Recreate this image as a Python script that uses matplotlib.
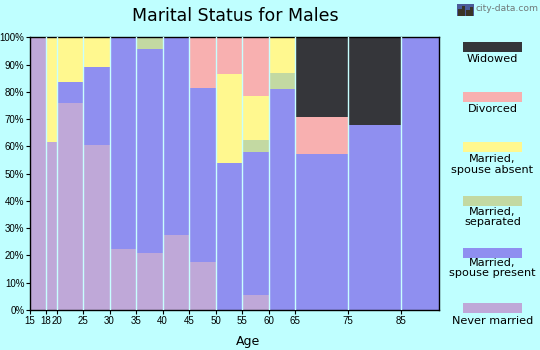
import matplotlib
matplotlib.use("Agg")
import matplotlib.pyplot as plt
from matplotlib.patches import Rectangle
import numpy as np

# age group boundaries (last group is open ended)
age_edges = [15, 18, 20, 25, 30, 35, 40, 45, 50, 55, 60, 65, 75, 85, 92.2]
edge_labels = ["15", "18", "20", "25", "30", "35", "40", "45", "50", "55", "60", "65", "75", "85", ""]

# shares in percent per age group, bottom to top
never_married = [100, 61.5, 75.9, 60.4, 22.3, 20.9, 27.5, 17.7, 0, 5.5, 0, 0, 0, 0]
spouse_present = [0, 0, 7.6, 28.6, 77.7, 74.7, 72.5, 63.6, 53.8, 52.4, 81.0, 57.1, 67.8, 100]
separated = [0, 0, 0, 0, 0, 4.4, 0, 0, 0, 4.4, 5.8, 0, 0, 0]
spouse_absent = [0, 38.5, 16.5, 11.0, 0, 0, 0, 0, 32.6, 16.1, 13.2, 0, 0, 0]
divorced = [0, 0, 0, 0, 0, 0, 0, 18.7, 13.6, 21.6, 0, 13.6, 0, 0]
widowed = [0, 0, 0, 0, 0, 0, 0, 0, 0, 0, 0, 29.3, 32.2, 0]

series = [
    ("Never married", never_married, "#bfa8d8"),
    ("Married,\nspouse present", spouse_present, "#8f8ff0"),
    ("Married,\nseparated", separated, "#c3d9a2"),
    ("Married,\nspouse absent", spouse_absent, "#fff88f"),
    ("Divorced", divorced, "#f8b0b0"),
    ("Widowed", widowed, "#35363a"),
]

bg = "#bfffff"
fig = plt.figure(figsize=(5.4, 3.5), dpi=100, facecolor=bg)
ax = fig.add_axes([0.0556, 0.1143, 0.758, 0.7791])
ax.set_facecolor(bg)

left = np.array(age_edges[:-1])
widths = np.diff(age_edges)
bottom = np.zeros(len(left))
for name, vals, col in series:
    vals = np.array(vals, dtype=float)
    ax.bar(left, vals, width=widths, bottom=bottom, align="edge", color=col,
           edgecolor="none", linewidth=0)
    bottom += vals

# thin separators between age groups
for e in age_edges[1:-1]:
    ax.axvline(e, color="#c8ffff", linewidth=1.0, zorder=3)

ax.set_xlim(age_edges[0], age_edges[-1])
ax.set_ylim(0, 100)
ax.set_yticks(range(0, 101, 10))
ax.set_yticklabels([f"{v}%" for v in range(0, 101, 10)])
ax.set_xticks(age_edges[:-1])
ax.set_xticklabels(edge_labels[:-1])
ax.tick_params(axis="both", labelsize=7, length=3, width=0.8, pad=1, colors="black")
for lab in ax.get_xticklabels() + ax.get_yticklabels():
    lab.set_family("Liberation Sans")
for s in ax.spines.values():
    s.set_color("black")
    s.set_linewidth(1.0)

fig.text(0.459, 0.023, "Age", fontsize=9, ha="center", va="center")
fig.text(0.435, 0.955, "Marital Status for Males", fontsize=12.5, ha="center", va="center")

# site mark in the top corner
fig.add_artist(Rectangle((0.847, 0.955), 0.031, 0.034, transform=fig.transFigure,
                         facecolor="#4c5c9a", edgecolor="none"))
for bx, bw, bh in [(0.849, 0.006, 0.020), (0.856, 0.005, 0.028), (0.863, 0.007, 0.016), (0.871, 0.005, 0.024)]:
    fig.add_artist(Rectangle((bx, 0.955), bw, bh, transform=fig.transFigure,
                             facecolor="#3a3426", edgecolor="none"))
fig.text(0.881, 0.976, "city-data.com", fontsize=6.6, color="#707878", va="center", ha="left")

# legend column on the right
patch_y = [0.852, 0.709, 0.567, 0.412, 0.264, 0.107]
text_y = [0.845, 0.702, 0.559, 0.410, 0.264, 0.096]
leg_items = list(reversed(series))
for (name, vals, col), py, ty in zip(leg_items, patch_y, text_y):
    fig.add_artist(Rectangle((0.857, py), 0.109, 0.027, transform=fig.transFigure,
                             facecolor=col, edgecolor="none"))
    fig.text(0.912, ty, name, fontsize=8.1, ha="center", va="top",
             linespacing=1.1)

fig.savefig("out.png", dpi=100, facecolor=bg)
